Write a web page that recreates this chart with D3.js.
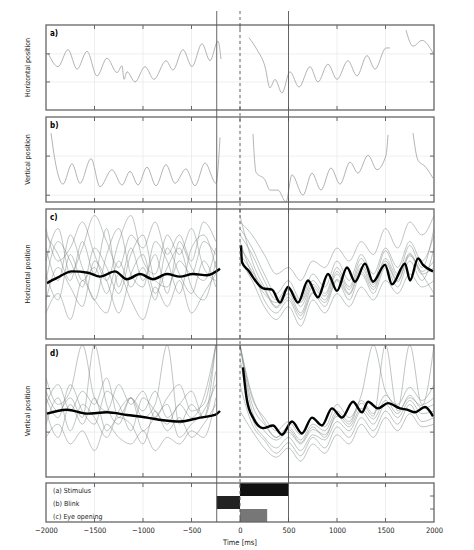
<!DOCTYPE html>
<html><head><meta charset="utf-8">
<script src="https://cdn.jsdelivr.net/npm/d3@7"></script>
<style>body{margin:0;background:#fff}text{font-family:"DejaVu Sans Condensed","Liberation Sans Narrow",sans-serif}</style>
</head><body><div id="chart"></div>
<script>
// single traces, [ms, value 0-100], null = gap
const traceA = [[-1979,67],[-1876,51],[-1773,71],[-1680,48],[-1577,69],[-1474,40],[-1371,61],[-1268,44],[-1216,52],[-1196,36],[-1165,45],[-1082,33],[-979,51],[-887,36],[-763,58],[-691,47],[-588,71],[-495,51],[-392,78],[-309,58],[-227,81],[-196,60],null,
  [93,85],[175,71],[258,51],[309,26],[361,36],[433,20],[515,45],[608,27],[722,51],[804,33],[907,54],[1000,36],[1113,58],[1206,40],[1309,64],[1392,48],[1505,73],[1546,73],null,
  [1711,94],[1784,75],[1876,82],[1990,67]];
const traceB = [[-1948,81],[-1907,49],[-1825,21],[-1732,45],[-1649,22],[-1536,51],[-1443,18],[-1320,38],[-1216,20],[-1134,36],[-1051,20],[-959,41],[-866,19],[-763,44],[-670,22],[-557,39],[-464,19],[-361,46],[-247,22],[-206,76],null,
  [134,80],[165,35],[258,26],[309,14],[392,14],[474,0],[536,32],[649,8],[742,34],[835,14],[938,40],[1031,21],[1134,47],[1216,34],[1320,55],[1412,38],[1505,55],[1526,79],null,
  [1784,81],[1835,49],[1907,42],[1990,28]];
const meanC = [[-1990,43],[-1887,47],[-1732,52],[-1567,51],[-1443,48],[-1289,52],[-1165,46],[-1031,50],[-897,46],[-753,50],[-619,48],[-485,50],[-340,49],[-206,54],null,
  [10,72],[21,59],[83,53],[237,39],[330,38],[412,28],[495,40],[598,28],[701,45],[804,32],[907,50],[1000,37],[1103,55],[1186,44],[1289,58],[1371,44],[1495,57],[1567,42],[1701,58],[1753,45],[1835,62],[1887,57],[1990,52]];
const meanD = [[-1990,48],[-1784,51],[-1577,48],[-1371,49],[-1165,47],[-959,45],[-794,43],[-619,42],[-412,45],[-258,47],[-206,50],null,
  [31,83],[72,58],[134,45],[237,37],[340,39],[433,32],[536,42],[639,33],[742,45],[845,39],[948,52],[1051,45],[1165,57],[1258,49],[1320,57],[1423,52],[1526,56],[1650,52],[1722,51],[1804,49],[1907,53],[1990,46]];

// individual trials sampled every 125 ms from -2000 to 2000
const trialTimes = d3.range(-2000, 2001, 125);
const trialsC = [
  [70,45,80,55,30,65,85,50,40,75,60,35,70,80,55,null,85,70,50,35,45,30,50,40,60,45,65,50,70,55,75,60,80],
  [30,55,40,25,60,45,20,50,65,35,55,70,40,30,60,null,95,60,40,25,35,20,40,30,50,35,55,40,60,45,65,50,55],
  [85,60,70,90,65,45,75,95,60,50,80,65,85,55,45,null,70,55,30,20,30,15,35,25,45,30,50,35,55,40,60,45,70],
  [45,75,60,40,70,55,35,65,80,45,40,60,50,75,65,null,80,65,45,30,40,28,45,35,55,40,62,45,68,50,72,55,85],
  [20,35,15,45,30,20,50,30,15,40,25,45,20,35,50,null,60,45,25,15,25,10,30,20,35,25,40,30,45,35,50,40,45],
  [60,85,50,70,95,75,55,80,70,90,65,80,60,90,75,null,90,80,65,50,55,45,60,55,70,60,75,65,85,70,90,80,95],
  [50,30,65,45,55,35,60,40,55,30,70,50,35,60,40,null,75,50,35,28,38,25,42,33,52,38,58,42,62,48,66,52,60],
  [80,65,45,75,50,85,40,70,45,65,35,75,55,45,70,null,65,52,38,24,32,18,36,28,46,34,52,38,58,44,64,50,35]
];
const trialsD = [
  [60,45,70,50,40,65,55,35,60,50,40,55,45,60,100,null,100,55,40,30,38,28,40,35,50,42,58,48,62,52,100,55,60],
  [40,60,35,55,45,30,50,60,35,45,55,30,40,50,70,null,90,45,30,22,30,20,32,28,42,35,50,40,55,45,58,48,50],
  [75,55,65,100,60,50,70,55,65,45,60,70,50,55,100,null,100,60,45,35,42,32,45,38,55,45,62,100,65,55,68,58,70],
  [30,40,25,35,20,40,30,25,35,20,30,25,35,30,60,null,70,40,28,18,26,16,30,22,38,30,45,35,50,40,55,42,45],
  [55,70,50,65,55,75,45,60,50,65,45,55,65,45,80,null,100,50,35,28,34,25,36,32,46,38,52,44,58,48,62,52,55],
  [50,30,55,40,60,35,45,40,25,50,35,45,30,40,55,null,50,35,22,15,22,12,25,18,32,25,40,30,45,35,48,38,40],
  [65,50,60,45,100,55,40,60,45,55,100,40,55,45,100,null,100,62,42,30,36,26,38,30,48,40,56,46,100,50,60,54,100]
];

const xTicks = [-2000,-1500,-1000,-500,0,500,1000,1500,2000];
const events = [
  {label:"(a) Stimulus", start:0, end:500, color:"#111"},
  {label:"(b) Blink", start:-240, end:0, color:"#222"},
  {label:"(c) Eye opening", start:0, end:280, color:"#777"}
];
const markers = [{t:-240, dash:null},{t:0, dash:"3,3"},{t:500, dash:null}];

const panels = [
  {id:"a)", label:"Horizontal position", top:25, bottom:110, grid:[33,66], trace:traceA},
  {id:"b)", label:"Vertical position", top:117, bottom:202, grid:[8,54], trace:traceB},
  {id:"c)", label:"Horizontal position", top:209, bottom:339, grid:[33,67], trace:meanC, trials:trialsC},
  {id:"d)", label:"Vertical position", top:345, bottom:477, grid:[34,67], trace:meanD, trials:trialsD}
];

const W = 474, H = 550;
const x = d3.scaleLinear().domain([-2000,2000]).range([46,434]);
const svg = d3.select("#chart").append("svg").attr("width",W).attr("height",H);

function frame(top, bottom, yTicks, y) {
  const g = svg.append("g");
  g.selectAll("line.vg").data(xTicks.slice(1,-1)).join("line")
    .attr("x1",d=>x(d)).attr("x2",d=>x(d)).attr("y1",top).attr("y2",bottom)
    .attr("stroke","#e4e4e4").attr("stroke-width",0.6);
  g.selectAll("line.hg").data(yTicks).join("line")
    .attr("x1",x(-2000)).attr("x2",x(2000)).attr("y1",d=>y(d)).attr("y2",d=>y(d))
    .attr("stroke","#e4e4e4").attr("stroke-width",0.6);
  return g;
}
function ticks(top, bottom, yTicks, y) {
  const g = svg.append("g").attr("stroke","#444").attr("stroke-width",0.8);
  xTicks.slice(1,-1).forEach(t => {
    g.append("line").attr("x1",x(t)).attr("x2",x(t)).attr("y1",top).attr("y2",top+4);
    g.append("line").attr("x1",x(t)).attr("x2",x(t)).attr("y1",bottom).attr("y2",bottom-4);
  });
  yTicks.forEach(v => {
    g.append("line").attr("x1",x(-2000)).attr("x2",x(-2000)+4).attr("y1",y(v)).attr("y2",y(v));
    g.append("line").attr("x1",x(2000)).attr("x2",x(2000)-4).attr("y1",y(v)).attr("y2",y(v));
  });
  svg.append("rect").attr("x",x(-2000)).attr("y",top).attr("width",x(2000)-x(-2000)).attr("height",bottom-top)
    .attr("fill","none").attr("stroke","#666").attr("stroke-width",1.3);
}

panels.forEach(p => {
  const y = d3.scaleLinear().domain([0,100]).range([p.bottom,p.top]);
  frame(p.top, p.bottom, p.grid, y);
  const clipId = "clip" + p.top;
  svg.append("clipPath").attr("id",clipId).append("rect")
    .attr("x",x(-2000)).attr("y",p.top).attr("width",x(2000)-x(-2000)).attr("height",p.bottom-p.top);
  const g = svg.append("g").attr("clip-path",`url(#${clipId})`);
  const line = d3.line().defined(d=>d!==null).x(d=>x(d[0])).y(d=>y(d[1])).curve(d3.curveMonotoneX);
  if (p.trials) {
    p.trials.forEach(tr => {
      const pts = tr.map((v,i) => v===null ? null : [trialTimes[i], v]);
      g.append("path").attr("d",line(pts)).attr("fill","none")
        .attr("stroke","#7f8882").attr("stroke-opacity",0.7).attr("stroke-width",0.7);
    });
    g.append("path").attr("d",line(p.trace)).attr("fill","none").attr("stroke","#000").attr("stroke-width",2.4);
  } else {
    g.append("path").attr("d",line(p.trace)).attr("fill","none").attr("stroke","#aaa").attr("stroke-width",0.9);
  }
  ticks(p.top, p.bottom, p.grid, y);
  svg.append("text").attr("x",x(-2000)+4).attr("y",p.top+11).attr("font-size",8).attr("font-weight","bold").text(p.id);
  svg.append("text").attr("transform",`translate(30,${(p.top+p.bottom)/2}) rotate(-90)`)
    .attr("text-anchor","middle").attr("font-size",7).attr("fill","#222").text(p.label);
});

// event panel
const ev = {top:483, bottom:522};
const yEv = d3.scaleBand().domain(events.map(e=>e.label)).range([ev.top,ev.bottom]);
frame(ev.top, ev.bottom, [], yEv);
svg.selectAll("rect.ev").data(events).join("rect")
  .attr("x",d=>x(d.start)).attr("width",d=>x(d.end)-x(d.start))
  .attr("y",d=>yEv(d.label)).attr("height",yEv.bandwidth()).attr("fill",d=>d.color);
svg.selectAll("text.ev").data(events).join("text")
  .attr("x",x(-2000)+7).attr("y",d=>yEv(d.label)+yEv.bandwidth()/2+3)
  .attr("font-size",7).attr("fill","#222").text(d=>d.label);
ticks(ev.top, ev.bottom, [], yEv);
const evTickG = svg.append("g").attr("stroke","#444").attr("stroke-width",0.8);
events.slice(1).forEach(e => {
  evTickG.append("line").attr("x1",x(2000)).attr("x2",x(2000)-4).attr("y1",yEv(e.label)).attr("y2",yEv(e.label));
});

// x axis labels
svg.append("g").attr("transform",`translate(0,${ev.bottom})`)
  .call(d3.axisBottom(x).tickValues(xTicks).tickFormat(d3.format("d")).tickSize(0).tickPadding(6))
  .call(g => g.select(".domain").remove())
  .call(g => g.selectAll("text").attr("font-size",7.5).attr("fill","#222")
    .style("font-family",'"DejaVu Sans Condensed","Liberation Sans Narrow",sans-serif'));
svg.append("text").attr("x",x(0)).attr("y",545).attr("text-anchor","middle").attr("font-size",7.5).attr("fill","#222").text("Time [ms]");

// event marker lines
svg.selectAll("line.mk").data(markers).join("line")
  .attr("x1",d=>x(d.t)).attr("x2",d=>x(d.t)).attr("y1",11).attr("y2",ev.bottom)
  .attr("stroke","#555").attr("stroke-width",0.9).attr("stroke-dasharray",d=>d.dash);
</script></body></html>
